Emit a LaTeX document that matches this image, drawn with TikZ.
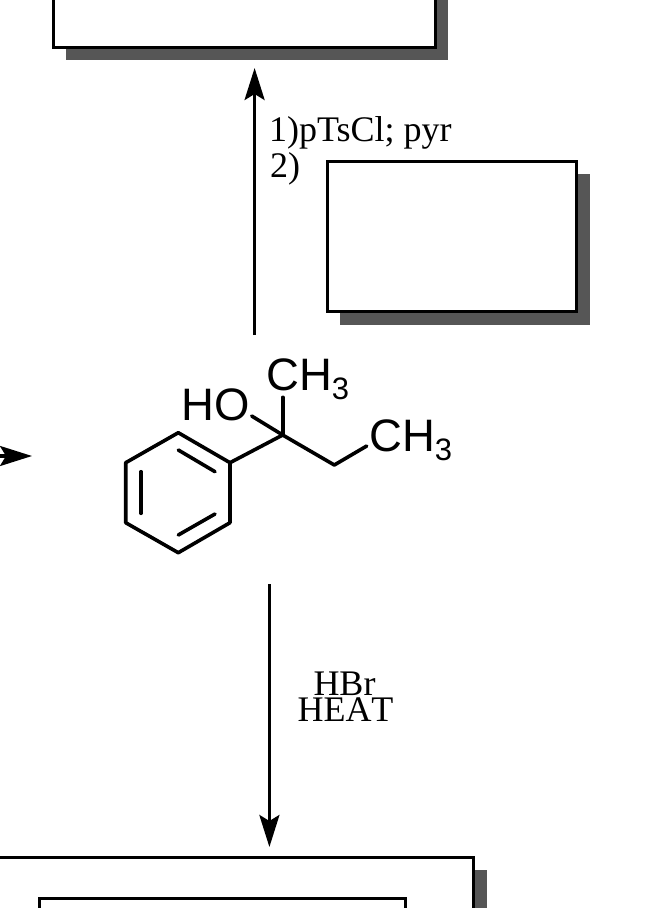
\documentclass[tikz,border=0pt]{standalone}
\usepackage{fontspec}
\setmainfont{Liberation Serif}
\newfontfamily\chemfont{Liberation Sans}
\usetikzlibrary{arrows.meta,shadows}
\tikzset{
	prodbox/.style={draw=black, fill=white, line width=3pt, inner sep=0pt, outer sep=0pt, anchor=north west, drop shadow={shadow xshift=13pt, shadow yshift=-13pt, fill=shadowgray, opacity=1}},
	innerbox/.style={draw=black, fill=white, line width=3pt, inner sep=0pt, outer sep=0pt, anchor=north west},
	rxn/.style={line width=3.1pt, -{Stealth[length=32pt,width=20pt,inset=6pt]}},
	bond/.style={line width=3.6pt, line cap=round, line join=round},
	reagent/.style={font=\fontsize{36}{36}\selectfont, inner sep=0pt},
	atom/.style={font=\chemfont\fontsize{45.5}{45.5}\selectfont, inner sep=0pt, anchor=base west}
}
\definecolor{shadowgray}{HTML}{565656}
\newcommand{\subthree}{\raisebox{-9pt}{\fontsize{31}{31}\selectfont 3}}
\begin{document}
\begin{tikzpicture}[x=1pt, y=-1pt]
	\useasboundingbox (0,0) rectangle (664,908);
	% boxes
	\node[prodbox, minimum width=382pt, minimum height=107pt] (topbox) at (53,-60) {};
	\node[prodbox, minimum width=249.5pt, minimum height=150.5pt] (pyrbox) at (327,161) {};
	\node[prodbox, minimum width=493.5pt, minimum height=120pt] (botbox) at (-20,857) {};
	\node[innerbox, minimum width=366pt, minimum height=60pt] (botinner) at (39,898) {};
	% arrows
	\coordinate (upstart) at (254.6,335);
	\coordinate (upend) at (254.6,68);
	\coordinate (downstart) at (269.4,584);
	\coordinate (downend) at (269.4,847);
	\coordinate (leftstart) at (-30,456);
	\coordinate (leftend) at (32,456);
	\draw[rxn] (upstart)--(upend);
	\draw[rxn] (downstart)--(downend);
	\draw[rxn] (leftstart)--(leftend);
	% reagents
	\node[reagent, anchor=base west] (tscl) at (269,141) {1)pTsCl; pyr};
	\node[reagent, anchor=base west] (two) at (270,177) {2)};
	\node[reagent, anchor=base] (hbr) at (344.5,695) {HBr};
	\node[reagent, anchor=base] (heat) at (345.5,721.5) {\addfontfeature{Kerning=Off}HEAT};
	% molecule
	\coordinate (r1) at (178.3,432.7);
	\coordinate (r2) at (230,462.7);
	\coordinate (r3) at (230,522.7);
	\coordinate (r4) at (178.3,552.7);
	\coordinate (r5) at (125.7,522.7);
	\coordinate (r6) at (125.7,462.7);
	\coordinate (cq) at (282.7,435);
	\coordinate (ch2) at (334.3,465);
	\draw[bond] (r1)--(r2)--(r3)--(r4)--(r5)--(r6)--cycle;
	\coordinate (d1a) at (178.3,450);
	\coordinate (d1b) at (215,471.7);
	\coordinate (d2a) at (141,471.7);
	\coordinate (d2b) at (141,513.3);
	\coordinate (d3a) at (178.3,535);
	\coordinate (d3b) at (215,514);
	\foreach \a/\b in {d1a/d1b,d2a/d2b,d3a/d3b}
	\draw[bond] (\a)--(\b);
	\node[atom] (ho) at (181,420) {HO};
	\node[atom] (methyl) at (266,390) {CH\subthree};
	\node[atom] (ethyl) at (369,451) {CH\subthree};
	\coordinate (hoend) at (251.7,416);
	\coordinate (meend) at (282.7,397.3);
	\coordinate (etend) at (366.7,446);
	\draw[bond] (r2)--(cq);
	\draw[bond] (hoend)--(cq);
	\draw[bond] (meend)--(cq);
	\draw[bond] (cq)--(ch2)--(etend);
\end{tikzpicture}
\end{document}
